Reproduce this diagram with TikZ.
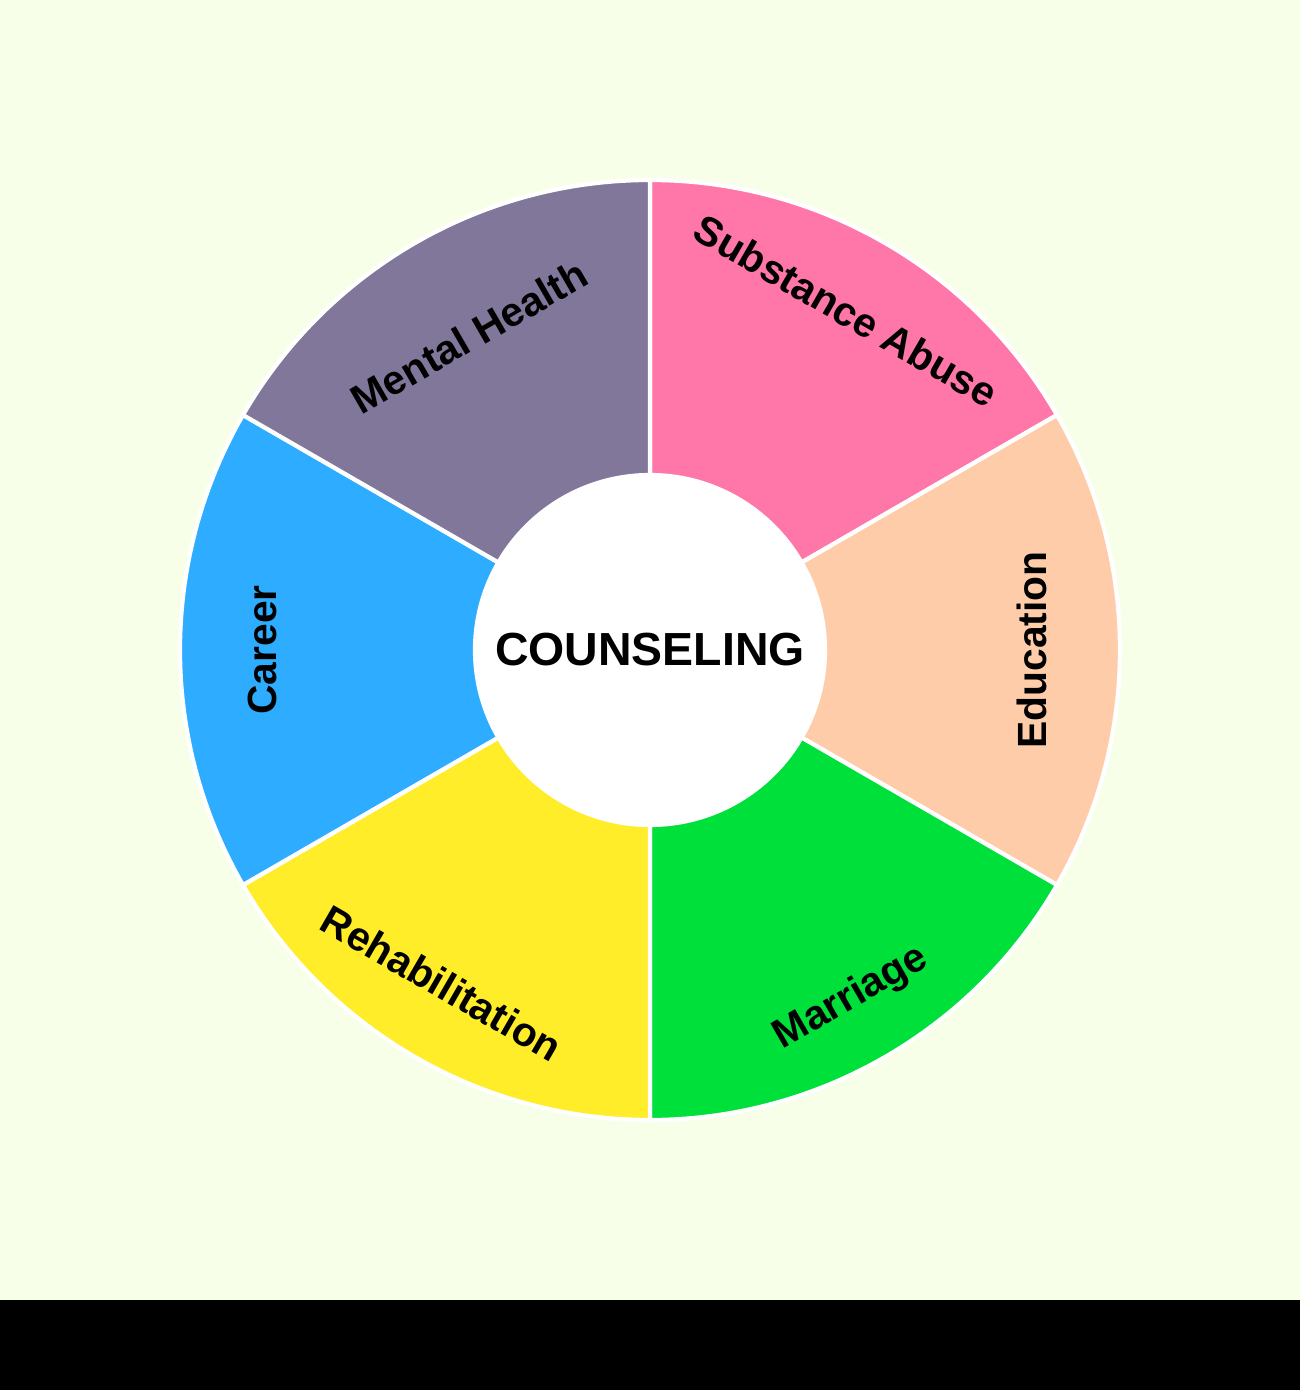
\documentclass[tikz,border=0pt]{standalone}
\usepackage{fontspec}
\setmainfont{Liberation Sans}
\definecolor{bg}{HTML}{F8FFE8}
\definecolor{cpur}{HTML}{80779B}
\definecolor{cpink}{HTML}{FF77A8}
\definecolor{cpeach}{HTML}{FFCCAA}
\definecolor{cgreen}{HTML}{00E03A}
\definecolor{cyel}{HTML}{FFED2A}
\definecolor{cblue}{HTML}{2EACFF}
\begin{document}
\begin{tikzpicture}[x=0.01cm,y=0.01cm,
  seg/.style={draw=white,line width=1.2pt},
  lab/.style={font=\bfseries\fontsize{11.6}{13}\selectfont}]
\useasboundingbox (-650,-740) rectangle (650,650);
\fill[bg] (-650,-650) rectangle (650,650);
\fill[black] (-650,-740) rectangle (650,-650);
\foreach \a/\c in {90/cpink,30/cpeach,-30/cgreen,-90/cyel,-150/cblue,-210/cpur}{
  \filldraw[seg,fill=\c] (0,0) -- (\a:470) arc[start angle=\a,delta angle=-60,radius=470] -- cycle;
}
\node[circle,fill=white,minimum size=3.54cm,inner sep=0] (c) at (0,0) {};
\node[font=\bfseries\fontsize{13.2}{15}\selectfont] (t) at (0,0) {COUNSELING};
\node[lab,rotate=30] (l1) at (120:362) {Mental Health};
\node[lab,rotate=-30] (l2) at (60:392) {Substance Abuse};
\node[lab,rotate=90] (l3) at (0:382) {Education};
\node[lab,rotate=30] (l4) at (-60:402) {Marriage};
\node[lab,rotate=-30] (l5) at (-122:393) {Rehabilitation};
\node[lab,rotate=90] (l6) at (180:388) {Career};
\end{tikzpicture}
\end{document}
